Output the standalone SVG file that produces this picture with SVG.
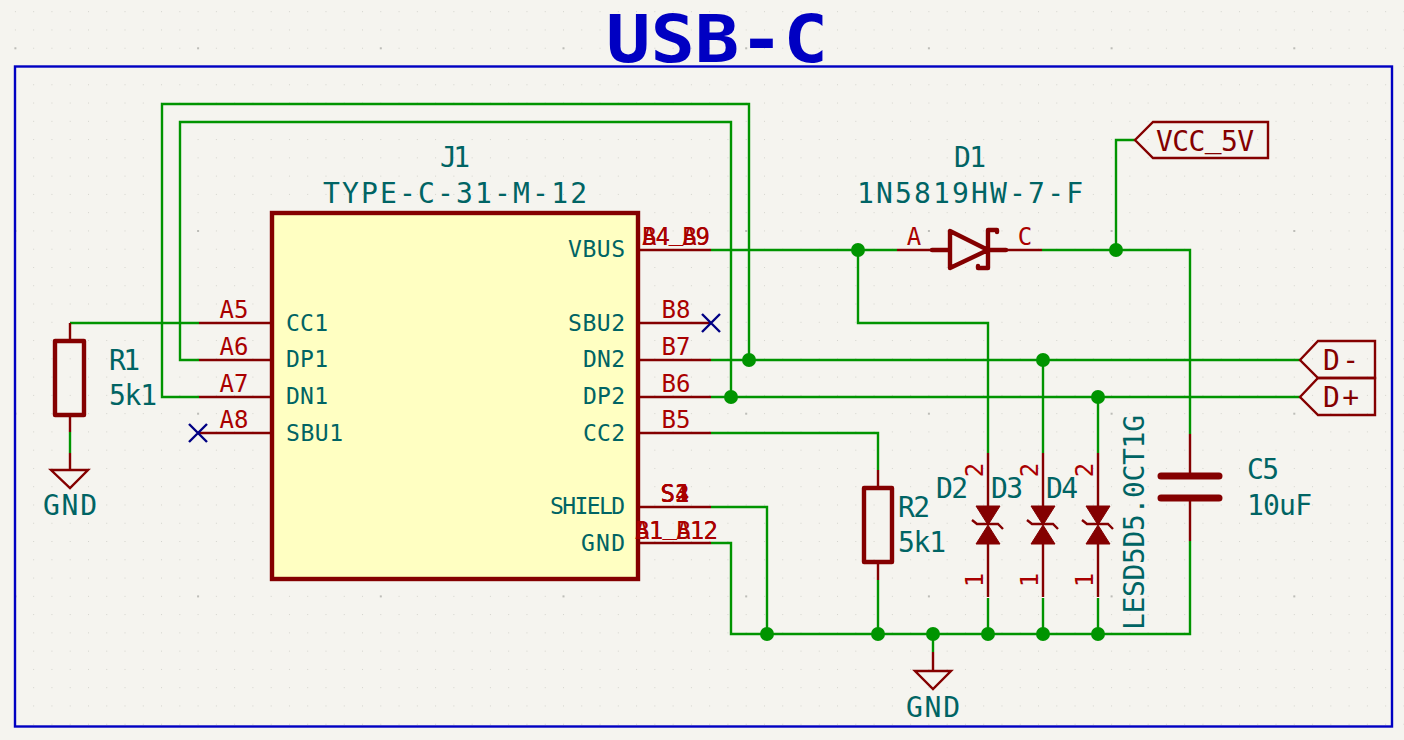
<svg xmlns="http://www.w3.org/2000/svg" width="1404" height="740" viewBox="0 0 1404 740">
<style>
text{font-family:"DejaVu Sans Mono","Liberation Mono",monospace}
.v{fill:#006464;font-size:28px}
.n{fill:#006464;font-size:23px}
.p{fill:#a90000;font-size:24px}
.m{text-anchor:middle}
.e{text-anchor:end}
.w{fill:none;stroke:#009400;stroke-width:2.4}
.l{fill:none;stroke:#840000;stroke-width:2.4}
.b{fill:none;stroke:#840000;stroke-width:4.4;stroke-linejoin:round;stroke-linecap:round}
.x{fill:none;stroke:#000084;stroke-width:2.4}
.j{fill:#009400}
.f{fill:#840000}
</style>
<defs>
<pattern id="g" x="14.9" y="11.2" width="18.27" height="18.27" patternUnits="userSpaceOnUse"><rect width="1" height="1" fill="#d2d2cc"/></pattern>
<pattern id="G" x="14.4" y="47.3" width="182.7" height="182.7" patternUnits="userSpaceOnUse"><rect width="2" height="2" fill="#bdbdb8"/></pattern>
<g id="diode-shape"><path class="l" d="M0 -72V-18M0 72V18"/><path class="f" d="M-12 -19H12L0 0ZM-12 19H12L0 0Z" stroke="#840000"/><path class="l" d="M-16 -5L-11 -1H10L15 4"/></g>
</defs>
<rect width="1404" height="740" fill="#f5f4ef"/>
<rect width="1404" height="740" fill="url(#g)"/>
<rect width="1404" height="740" fill="url(#G)"/>
<rect id="sheet" x="15" y="66.500" width="1377" height="660" fill="none" stroke="#0000c2" stroke-width="2.4"/>
<text id="title" x="606" y="62" textLength="222" lengthAdjust="spacingAndGlyphs" style="font-family:'DejaVu Sans Mono',monospace;font-weight:bold;font-size:66px;fill:#0000c2">USB-C</text>

<g id="connectors">
<path class="w" d="M199 323H70M199 360H180V122H731V397M199 397H162V104H749V360"/>
<path class="w" d="M70 432V453"/>
<path class="w" d="M711 250H897M1042 250H1190V434M858 250V323H988V453M1116 250V140H1135"/>
<path class="w" d="M711 360H1300M711 397H1300M1043 360V453M1098 397V453"/>
<path class="w" d="M711 433H878V470M711 507H767V634M711 543H731V634H1190V541"/>
<path class="w" d="M878 580V634M933 634V652M988 598V634M1043 598V634M1098 598V634"/>
<circle class="j" cx="858" cy="250" r="7"/><circle class="j" cx="1116" cy="250" r="7"/>
<circle class="j" cx="749" cy="360" r="7"/><circle class="j" cx="1043" cy="360" r="7"/>
<circle class="j" cx="731" cy="397" r="7"/><circle class="j" cx="1098" cy="397" r="7"/>
<circle class="j" cx="767" cy="634" r="7"/><circle class="j" cx="878" cy="634" r="7"/><circle class="j" cx="933" cy="634" r="7"/>
<circle class="j" cx="988" cy="634" r="7"/><circle class="j" cx="1043" cy="634" r="7"/><circle class="j" cx="1098" cy="634" r="7"/>
</g>

<g id="J1">
<text class="v m" x="455" y="167" textLength="30">J1</text>
<text class="v" x="323" y="203" textLength="264">TYPE-C-31-M-12</text>
<rect x="272" y="213" width="366" height="366" fill="#ffffc2" stroke="#840000" stroke-width="4.4"/>
<path class="l" d="M199 323H272M199 360H272M199 397H272M198 433H272M638 250H711M638 323H711M638 360H711M638 397H711M638 433H711M638 507H711M638 543H711"/>
<path class="x" d="M189 424L207 442M207 424L189 442M702 314L720 332M720 314L702 332"/>
<g class="n">
<text x="286" y="331" textLength="42">CC1</text><text x="286" y="367" textLength="42">DP1</text><text x="286" y="404" textLength="42">DN1</text><text x="286" y="441" textLength="57">SBU1</text>
<text class="e" x="625" y="257" textLength="57">VBUS</text><text class="e" x="625" y="331" textLength="57">SBU2</text><text class="e" x="625" y="367" textLength="42">DN2</text><text class="e" x="625" y="404" textLength="42">DP2</text><text class="e" x="625" y="441" textLength="42">CC2</text><text class="e" x="625" y="514" textLength="75">SHIELD</text><text class="e" x="625" y="551" textLength="44">GND</text>
</g>
<g class="p">
<text class="m" x="234" y="318">A5</text><text class="m" x="234" y="355">A6</text><text class="m" x="234" y="392">A7</text><text class="m" x="234" y="428">A8</text>
<text x="642" y="245" textLength="68">A4<tspan dy="-5">_</tspan><tspan dy="5">B9</tspan></text><text x="642" y="245" textLength="68">B4<tspan dy="-5">_</tspan><tspan dy="5">A9</tspan></text>
<text class="m" x="676" y="318">B8</text><text class="m" x="676" y="355">B7</text><text class="m" x="676" y="392">B6</text><text class="m" x="676" y="428">B5</text>
<text class="m" x="675" y="502">S1</text><text class="m" x="675" y="502">S2</text><text class="m" x="675" y="502">S3</text><text class="m" x="675" y="502">S4</text>
<text x="635" y="539" textLength="83">A1<tspan dy="-5">_</tspan><tspan dy="5">B12</tspan></text><text x="635" y="539" textLength="83">B1<tspan dy="-5">_</tspan><tspan dy="5">A12</tspan></text>
</g>
</g>

<g id="R1">
<path class="l" d="M70 323V340M70 416V432M70 453V470"/>
<rect class="b" x="55" y="341" width="29" height="74"/>
<text class="v" x="109" y="370" textLength="31">R1</text><text class="v" x="109" y="405" textLength="48">5k1</text>
</g>
<g id="GND1"><path class="l" d="M51 470H88L70 488Z"/><text class="v m" x="70" y="515" textLength="54">GND</text></g>

<g id="R2">
<path class="l" d="M878 470V488M878 562V580"/>
<rect class="b" x="864" y="488" width="28" height="74"/>
<text class="v" x="898" y="517" textLength="32">R2</text><text class="v" x="898" y="552" textLength="48">5k1</text>
</g>
<g id="GND2"><path class="l" d="M933 652V671M915 671H951L933 689Z"/><text class="v m" x="933" y="717" textLength="54">GND</text></g>

<g id="D1">
<text class="v m" x="970" y="167" textLength="32">D1</text>
<text class="v m" x="970" y="203" textLength="226">1N5819HW-7-F</text>
<path class="l" d="M897 250H932M1006 250H1042"/>
<path class="b" d="M932 250H950M988 250H1006M950 231V268L988 250ZM997 232V230H988V268H978V266"/>
<text class="p m" x="914" y="245">A</text><text class="p m" x="1025" y="245">C</text>
</g>

<g id="D2">
<use href="#diode-shape" x="988" y="525"/>
<text class="v" x="936" y="498" textLength="32">D2</text>
<text class="p m" transform="translate(983 470) rotate(-90)">2</text><text class="p m" transform="translate(983 580) rotate(-90)">1</text>
</g>
<g id="D3">
<use href="#diode-shape" x="1043" y="525"/>
<text class="v" x="991" y="498" textLength="32">D3</text>
<text class="p m" transform="translate(1038 470) rotate(-90)">2</text><text class="p m" transform="translate(1038 580) rotate(-90)">1</text>
</g>
<g id="D4">
<use href="#diode-shape" x="1098" y="525"/>
<text class="v" x="1046" y="498" textLength="32">D4</text>
<text class="p m" transform="translate(1093 470) rotate(-90)">2</text><text class="p m" transform="translate(1093 580) rotate(-90)">1</text>
<text class="v" transform="translate(1144 630) rotate(-90)" textLength="215">LESD5D5.0CT1G</text>
</g>

<g id="C5">
<path class="l" d="M1190 434V476M1190 498V541"/>
<path fill="none" stroke="#840000" stroke-width="7" stroke-linecap="round" d="M1161 476H1219M1161 498H1219"/>
<text class="v" x="1247" y="479" textLength="32">C5</text><text class="v" x="1247" y="515" textLength="65">10uF</text>
</g>

<g id="VCC_5V"><path class="l" d="M1135 140L1153 122H1268V158H1153Z"/><text class="v" x="1156" y="151" style="fill:#840000" textLength="98">VCC<tspan dy="-4">_</tspan><tspan dy="4">5V</tspan></text></g>
<g id="Dminus"><path class="l" d="M1300 360L1318 341H1375V378H1318Z"/><text class="v" x="1323" y="370" style="fill:#840000" textLength="36">D-</text></g>
<g id="Dplus"><path class="l" d="M1300 397L1318 378H1375V415H1318Z"/><text class="v" x="1323" y="407" style="fill:#840000" textLength="36">D+</text></g>
</svg>
